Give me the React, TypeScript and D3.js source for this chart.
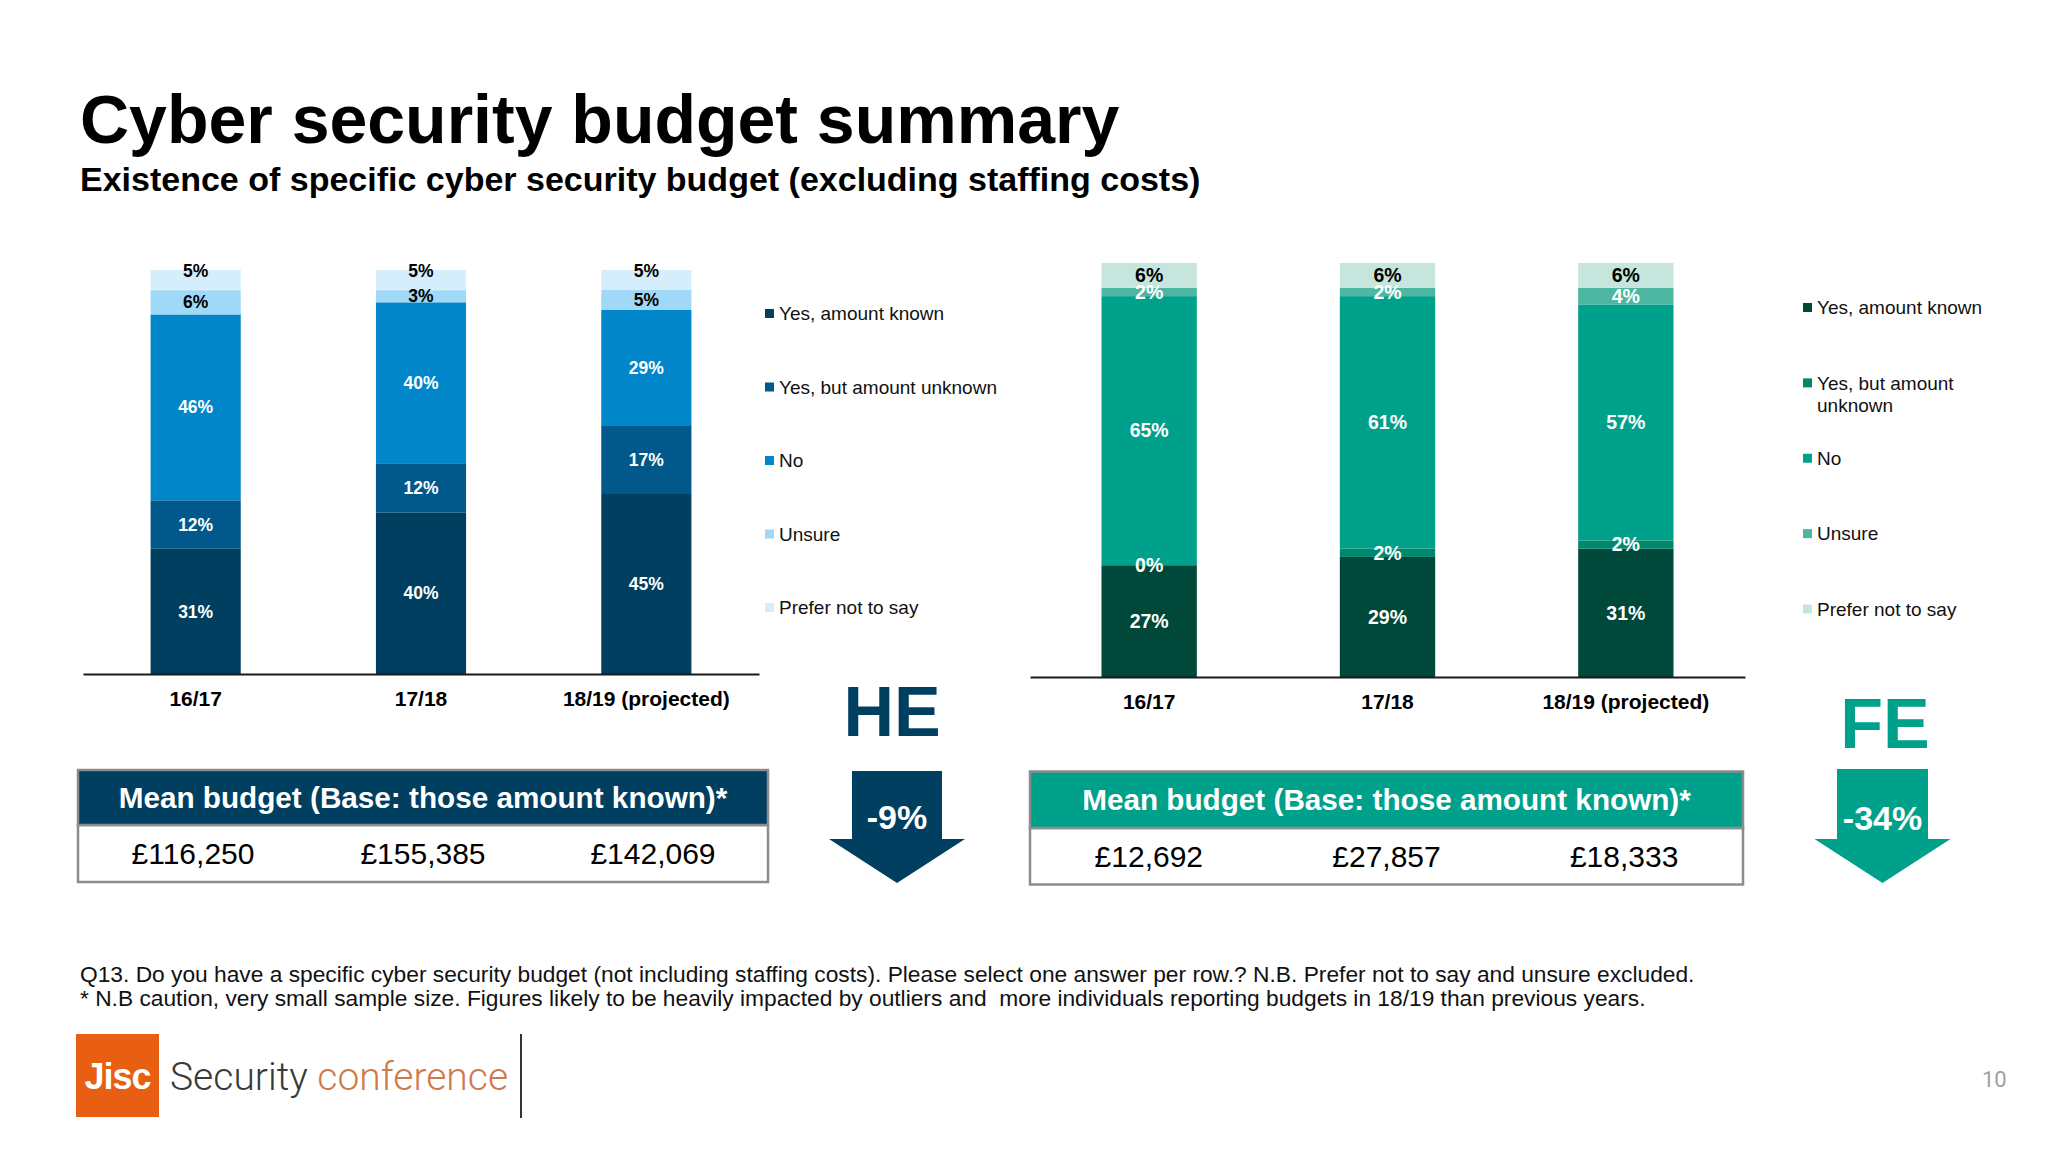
import { useRef, useEffect } from 'react'
import * as d3 from 'd3'

const W = 2048
const H = 1152
const FONT = "'Liberation Sans', Arial, Helvetica, sans-serif"

// categories
const years = ['16/17', '17/18', '18/19 (projected)']
const responses = ['Yes, amount known', 'Yes, but amount unknown', 'No', 'Unsure', 'Prefer not to say']

// % of respondents per year, same order as `responses`
const heShares = [
  [31, 12, 46, 6, 5],
  [40, 12, 40, 3, 5],
  [45, 17, 29, 5, 5],
]
const feShares = [
  [27, 0, 65, 2, 6],
  [29, 2, 61, 2, 6],
  [31, 2, 57, 4, 6],
]

// mean budget (base: those amount known), GBP
const heBudget = [116250, 155385, 142069]
const feBudget = [12692, 27857, 18333]

const heColors = ['#003f5f', '#00598a', '#0086c9', '#a0d9f7', '#d6eefb']
const feColors = ['#00483a', '#00886c', '#00a18a', '#4db7a2', '#c6e6dd']

interface Panel {
  key: string
  shares: number[][]
  budget: number[]
  colors: string[]
  accent: string
  darkLabels: number[]
  labelSize: number
  topLabelNudge: number
  axisX: [number, number]
  plotY: [number, number]
  legendX: number
  legendY: [number, number]
  legendWrap: number
  tableX: [number, number]
  tableY: [number, number, number]
  arrow: { cx: number; top: number; head: number; tip: number; shaft: number; wing: number }
  badge: { x: number; y: number }
  changeY: number
}

const panels: Panel[] = [
  {
    key: 'HE',
    shares: heShares,
    budget: heBudget,
    colors: heColors,
    accent: '#003f5f',
    darkLabels: [3, 4],
    labelSize: 17.5,
    topLabelNudge: -9,
    axisX: [83, 759],
    plotY: [674, 270],
    legendX: 765,
    legendY: [313.5, 607.5],
    legendWrap: 400,
    tableX: [78, 768],
    tableY: [770, 825, 882],
    arrow: { cx: 897, top: 771, head: 839, tip: 883, shaft: 45, wing: 68 },
    badge: { x: 892, y: 736 },
    changeY: 829,
  },
  {
    key: 'FE',
    shares: feShares,
    budget: feBudget,
    colors: feColors,
    accent: '#00a18a',
    darkLabels: [4],
    labelSize: 19.5,
    topLabelNudge: 0,
    axisX: [1030, 1745],
    plotY: [677, 263],
    legendX: 1803,
    legendY: [307.5, 609],
    legendWrap: 200,
    tableX: [1030, 1743],
    tableY: [771.5, 828, 884.5],
    arrow: { cx: 1882.5, top: 769, head: 839, tip: 883, shaft: 45.5, wing: 68 },
    badge: { x: 1885, y: 748 },
    changeY: 830,
  },
]

const footnotes = [
  'Q13. Do you have a specific cyber security budget (not including staffing costs). Please select one answer per row.? N.B. Prefer not to say and unsure excluded.',
  '* N.B caution, very small sample size. Figures likely to be heavily impacted by outliers and  more individuals reporting budgets in 18/19 than previous years.',
]

function drawPanel(svg: d3.Selection<SVGSVGElement, unknown, null, undefined>, p: Panel) {
  const g = svg.append('g').attr('class', `panel ${p.key}`).attr('font-family', FONT)

  const x = d3.scaleBand<string>().domain(years).range(p.axisX).paddingInner(0.6).paddingOuter(0.3)
  const y = d3.scaleLinear().domain([0, 1]).range(p.plotY)

  const rows = years.map((year, i) => {
    const row: Record<string, any> = { year }
    responses.forEach((r, j) => { row[r] = p.shares[i][j] })
    return row
  })
  const series = d3.stack<Record<string, any>>().keys(responses).offset(d3.stackOffsetExpand)(rows)

  // stacked bars
  g.append('g')
    .selectAll('g')
    .data(series)
    .join('g')
    .attr('fill', (_, i) => p.colors[i])
    .selectAll('rect')
    .data(d => d)
    .join('rect')
    .attr('x', d => x(d.data.year) as number)
    .attr('y', d => y(d[1]))
    .attr('width', x.bandwidth())
    .attr('height', d => Math.max(0, y(d[0]) - y(d[1])))

  // value labels
  series.forEach((s, si) => {
    g.append('g')
      .selectAll('text')
      .data(s)
      .join('text')
      .attr('x', d => (x(d.data.year) as number) + x.bandwidth() / 2)
      .attr('y', d => (y(d[0]) + y(d[1])) / 2 + (si === responses.length - 1 ? p.topLabelNudge : 0))
      .attr('dy', '0.35em')
      .attr('text-anchor', 'middle')
      .attr('font-size', p.labelSize)
      .attr('font-weight', 'bold')
      .attr('fill', p.darkLabels.includes(si) ? '#000' : '#fff')
      .text(d => `${d.data[s.key]}%`)
  })

  // category axis
  const axis = g.append('g')
    .attr('transform', `translate(0,${p.plotY[0]})`)
    .call(d3.axisBottom(x).tickSize(0).tickSizeOuter(0).tickPadding(17))
  axis.attr('font-family', FONT).attr('font-size', 21).attr('font-weight', 'bold')
  axis.select('.domain').attr('stroke', '#1a1a1a').attr('stroke-width', 2)
  axis.selectAll('.tick text').attr('fill', '#000')

  // legend
  const ly = d3.scalePoint<string>().domain(responses).range(p.legendY)
  const items = g.append('g')
    .selectAll('g')
    .data(responses)
    .join('g')
    .attr('transform', r => `translate(${p.legendX},${ly(r)})`)
  items.append('rect')
    .attr('x', 0).attr('y', -4.5).attr('width', 9).attr('height', 9)
    .attr('fill', (_, i) => p.colors[i])
  items.append('text')
    .attr('font-size', 19)
    .attr('fill', '#111')
    .each(function (r) {
      const t = d3.select(this)
      let line: string[] = []
      let tspan = t.append('tspan').attr('x', 14).attr('dy', '0.35em')
      for (const w of r.split(' ')) {
        line.push(w)
        tspan.text(line.join(' '))
        if ((tspan.node() as SVGTSpanElement).getComputedTextLength() > p.legendWrap && line.length > 1) {
          line.pop()
          tspan.text(line.join(' '))
          line = [w]
          tspan = t.append('tspan').attr('x', 14).attr('dy', 22).text(w)
        }
      }
    })

  // mean budget table
  const tx = d3.scaleBand<string>().domain(years).range(p.tableX)
  const [t0, t1, t2] = p.tableY
  g.append('rect')
    .attr('x', p.tableX[0]).attr('y', t1)
    .attr('width', p.tableX[1] - p.tableX[0]).attr('height', t2 - t1)
    .attr('fill', '#fff').attr('stroke', '#8c8c8c').attr('stroke-width', 2.5)
  g.append('rect')
    .attr('x', p.tableX[0]).attr('y', t0)
    .attr('width', p.tableX[1] - p.tableX[0]).attr('height', t1 - t0)
    .attr('fill', p.accent).attr('stroke', '#8c8c8c').attr('stroke-width', 2.5)
  g.append('text')
    .attr('x', (p.tableX[0] + p.tableX[1]) / 2)
    .attr('y', (t0 + t1) / 2)
    .attr('dy', '0.35em')
    .attr('text-anchor', 'middle')
    .attr('font-size', 29.7)
    .attr('font-weight', 'bold')
    .attr('fill', '#fff')
    .text('Mean budget (Base: those amount known)*')
  g.append('g')
    .selectAll('text')
    .data(p.budget)
    .join('text')
    .attr('x', (_, i) => (tx(years[i]) as number) + tx.bandwidth() / 2)
    .attr('y', (t1 + t2) / 2)
    .attr('dy', '0.35em')
    .attr('text-anchor', 'middle')
    .attr('font-size', 30)
    .attr('fill', '#000')
    .text(v => `£${d3.format(',')(v)}`)

  // sector badge
  g.append('text')
    .attr('x', p.badge.x).attr('y', p.badge.y)
    .attr('text-anchor', 'middle')
    .attr('font-size', 70)
    .attr('font-weight', 'bold')
    .attr('fill', p.accent)
    .text(p.key)

  // change arrow (last year vs previous)
  const a = p.arrow
  const pts: [number, number][] = [
    [a.cx - a.shaft, a.top], [a.cx + a.shaft, a.top], [a.cx + a.shaft, a.head],
    [a.cx + a.wing, a.head], [a.cx, a.tip], [a.cx - a.wing, a.head], [a.cx - a.shaft, a.head],
  ]
  g.append('path')
    .attr('d', d3.line()(pts) + 'Z')
    .attr('fill', p.accent)
  const n = p.budget.length
  const change = (p.budget[n - 1] - p.budget[n - 2]) / p.budget[n - 2]
  g.append('text')
    .attr('x', a.cx).attr('y', p.changeY)
    .attr('text-anchor', 'middle')
    .attr('font-size', 34)
    .attr('font-weight', 'bold')
    .attr('fill', '#fff')
    .text(`${Math.round(change * 100)}%`)
}

export default function App() {
  const svgRef = useRef<SVGSVGElement>(null)

  useEffect(() => {
    if (!svgRef.current) return
    const svg = d3.select(svgRef.current)
    svg.selectAll('*').remove()

    svg.append('rect').attr('width', W).attr('height', H).attr('fill', '#fff')

    // titles
    svg.append('text')
      .attr('x', 80).attr('y', 143)
      .attr('font-family', FONT).attr('font-size', 68).attr('font-weight', 'bold')
      .attr('fill', '#000')
      .text('Cyber security budget summary')
    svg.append('text')
      .attr('x', 80).attr('y', 191)
      .attr('font-family', FONT).attr('font-size', 34).attr('font-weight', 'bold')
      .attr('fill', '#000')
      .text('Existence of specific cyber security budget (excluding staffing costs)')

    panels.forEach(p => drawPanel(svg, p))

    // footnotes
    svg.append('g')
      .selectAll('text')
      .data(footnotes)
      .join('text')
      .attr('x', 80)
      .attr('y', (_, i) => 982 + i * 24)
      .attr('font-family', FONT)
      .attr('font-size', 22.75)
      .attr('fill', '#111')
      .attr('xml:space', 'preserve')
      .style('white-space', 'pre')
      .text(d => d)

    // footer logo
    const logo = svg.append('g')
    logo.append('rect')
      .attr('x', 76).attr('y', 1034).attr('width', 83).attr('height', 83)
      .attr('fill', '#e85e13')
    logo.append('text')
      .attr('x', 117.5).attr('y', 1089)
      .attr('text-anchor', 'middle')
      .attr('font-family', FONT).attr('font-size', 36).attr('font-weight', 'bold')
      .attr('letter-spacing', -1)
      .attr('fill', '#fff')
      .text('Jisc')
    const brand = logo.append('text')
      .attr('x', 170).attr('y', 1090)
      .attr('font-family', 'Roboto, sans-serif').attr('font-size', 39).attr('font-weight', 300)
    brand.append('tspan').attr('fill', '#3a3a3a').text('Security ')
    brand.append('tspan').attr('fill', '#cf7a4a').text('conference')
    logo.append('line')
      .attr('x1', 521).attr('x2', 521).attr('y1', 1034).attr('y2', 1118)
      .attr('stroke', '#333').attr('stroke-width', 2)

    // page number
    svg.append('text')
      .attr('x', 1982).attr('y', 1087)
      .attr('font-family', 'Roboto, sans-serif').attr('font-size', 22)
      .attr('fill', '#a0a0a0')
      .text('10')
  }, [])

  return (
    <div style={{ position: 'absolute', left: 0, top: 0 }}>
      <svg ref={svgRef} width={W} height={H} style={{ display: 'block' }} />
    </div>
  )
}
